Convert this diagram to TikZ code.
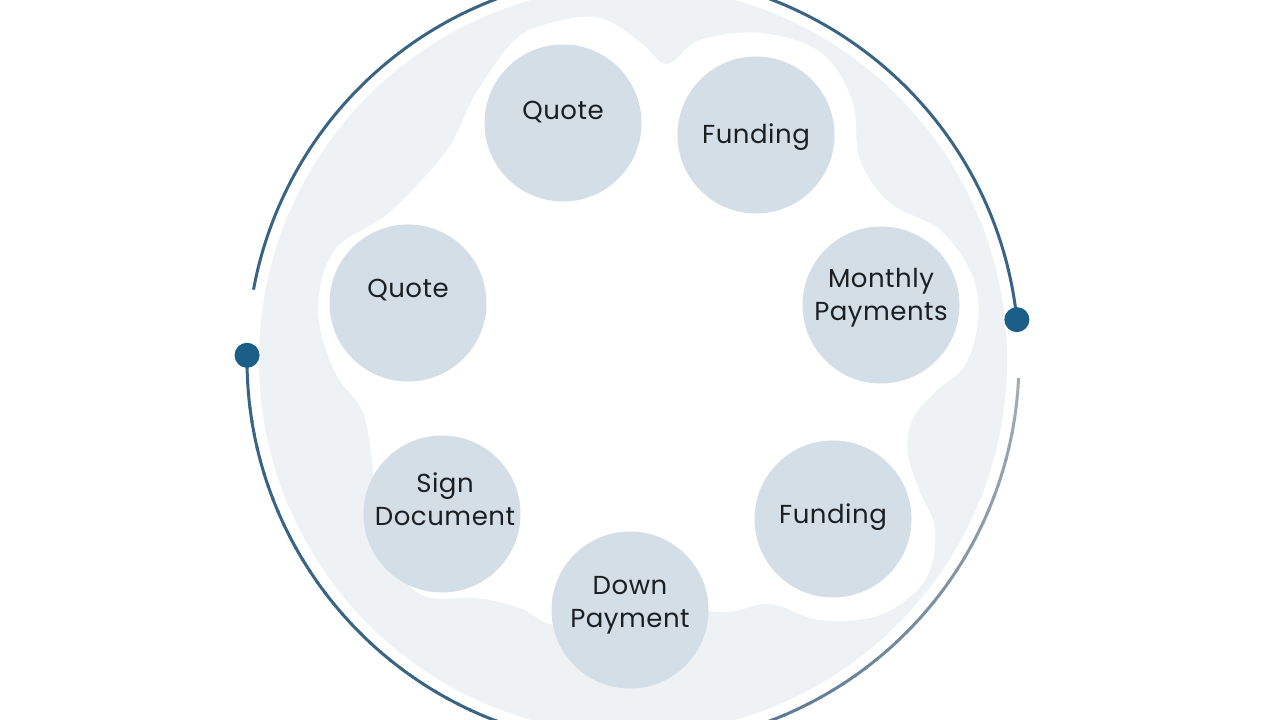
\documentclass[tikz,border=0pt]{standalone}
\usepackage{fontspec}
\setmainfont{Poppins}[LetterSpace=2]
\definecolor{ringblue}{HTML}{3A6483}
\definecolor{ringgray}{HTML}{A3ACB2}
\definecolor{dotblue}{HTML}{1B5E87}
\definecolor{diskgray}{HTML}{EEF2F5}
\definecolor{stepfill}{HTML}{D3DEE6}
\definecolor{txt}{HTML}{1C1F22}
\tikzset{
  stepdisk/.style={circle, fill=stepfill, minimum size=157pt, inner sep=0pt},
  steplabel/.style={text=txt, align=center, font=\fontsize{26}{33}\selectfont},
  ringline/.style={line width=3pt, color=ringblue},
  enddot/.style={circle, fill=dotblue, minimum size=25pt, inner sep=0pt}
}
\begin{document}
\begin{tikzpicture}[x=1pt,y=1pt]
\useasboundingbox (0,0) rectangle (1280,720);
\clip (0,0) rectangle (1280,720);
\fill[white] (0,0) rectangle (1280,720);
\coordinate (C) at (633,360);
% light background disc
\fill[diskgray] (C) circle[radius=374];
% white inner area (traced in image pixel coordinates)
\begin{scope}[yshift=720pt, yscale=-1]
\fill[white] plot[smooth cycle, tension=0.6] coordinates {
  (600,18) (640,42) (667,64) (700,40) (760,33) (820,52) (852,100)
  (860,160) (890,203) (940,230) (972,275) (978,320) (965,365)
  (935,392) (912,420) (908,455) (920,492) (935,530) (925,580)
  (880,615) (820,620) (770,604) (720,612) (630,600) (560,625)
  (520,608) (477,598) (420,594) (380,540) (372,460) (362,410)
  (335,372) (318,310) (335,250) (390,212) (447,150) (475,95)
  (515,40) (555,22)};
\end{scope}
% step circles
\node[stepdisk] (q1) at (563,597) {};
\node[stepdisk] (f1) at (756,585) {};
\node[stepdisk] (mp) at (881,415) {};
\node[stepdisk] (f2) at (833,201) {};
\node[stepdisk] (dp) at (630,110) {};
\node[stepdisk] (sd) at (442,206) {};
\node[stepdisk] (q2) at (408,417) {};
% labels
\node[steplabel] (tq1) at ([yshift=11pt]q1.center) {Quote};
\node[steplabel] (tf1) at ([yshift=-2pt]f1.center) {Funding};
\node[steplabel] (tmp) at ([yshift=7pt]mp.center) {Monthly\\Payments};
\node[steplabel] (tf2) at ([yshift=2pt]f2.center) {Funding};
\node[steplabel] (tdp) at ([yshift=5pt]dp.center) {Down\\Payment};
\node[steplabel] (tsd) at ([xshift=3pt,yshift=15pt]sd.center) {Sign\\Document};
\node[steplabel] (tq2) at ([yshift=13pt]q2.center) {Quote};
% outer ring, upper arc
\draw[ringline] ([shift={(6:386)}]C) arc[start angle=6, end angle=169.5, radius=386];
% outer ring, lower arc with fading colour
\foreach \a in {179,181,...,355}{
  \pgfmathsetmacro{\p}{\a<260 ? 100 : max(0,100-(\a-260)*1.05)}
  \draw[line width=3pt, color=ringblue!\p!ringgray]
    ([shift={(\a:386)}]C) arc[start angle=\a, end angle=\a+2.3, radius=386];
}
% end dots
\node[enddot] (dl) at ([shift={(179.3:386)}]C) {};
\node[enddot] (dr) at ([shift={(6:386)}]C) {};
\end{tikzpicture}
\end{document}
